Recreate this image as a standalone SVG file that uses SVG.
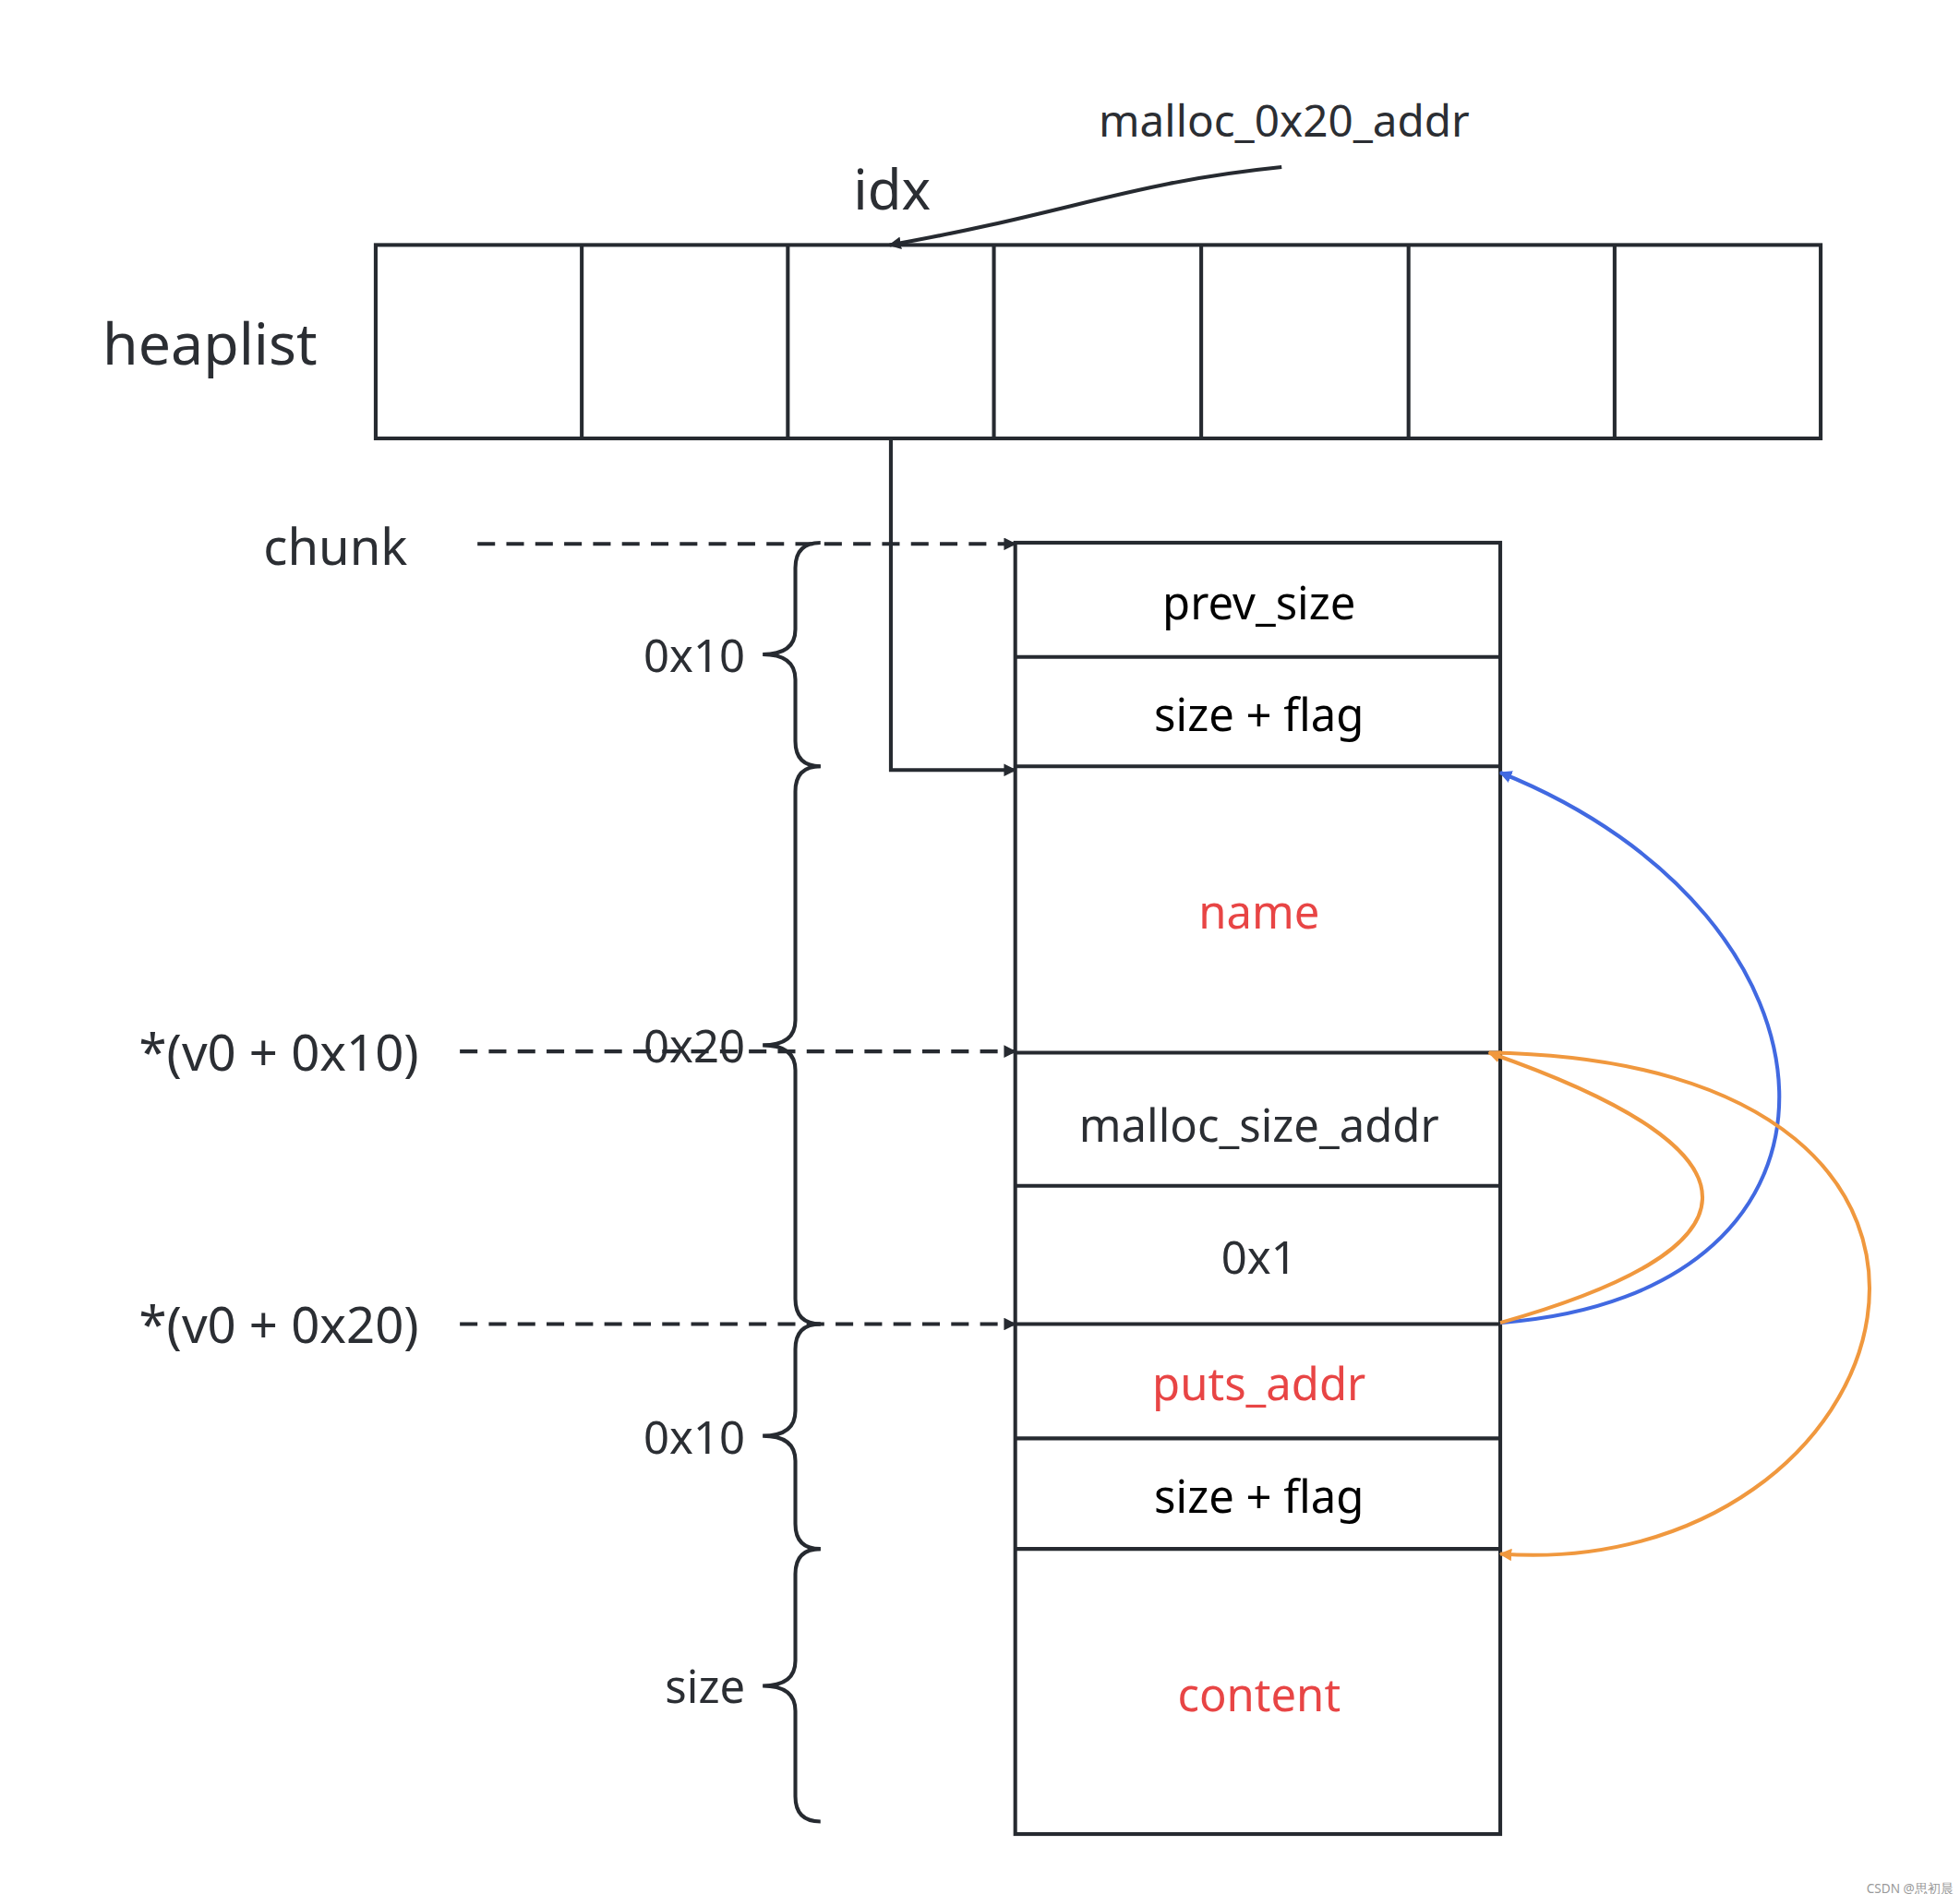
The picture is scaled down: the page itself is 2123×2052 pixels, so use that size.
<svg xmlns="http://www.w3.org/2000/svg" width="2123" height="2052" viewBox="0 0 2123 2052">
<style>
text{font-family:"Noto Sans","Open Sans",sans-serif;fill:#2b2e33;text-anchor:middle;dominant-baseline:central}
.b{fill:none;stroke:#262a30;stroke-width:3}
.d{fill:none;stroke:#262a30;stroke-width:3;stroke-dasharray:14 9}
.r{fill:#e84545}
.k{fill:#000}
</style>
<defs>
<marker id="ak" markerWidth="10" markerHeight="10" refX="9" refY="5" orient="auto" markerUnits="userSpaceOnUse" viewBox="0 0 10 10"><path d="M0,0L10,5L0,10z" fill="#262a30"/></marker>
<marker id="ab" markerWidth="10" markerHeight="10" refX="9" refY="5" orient="auto" markerUnits="userSpaceOnUse" viewBox="0 0 10 10"><path d="M0,0L10,5L0,10z" fill="#4169e1"/></marker>
<marker id="ao" markerWidth="10" markerHeight="10" refX="9" refY="5" orient="auto" markerUnits="userSpaceOnUse" viewBox="0 0 10 10"><path d="M0,0L10,5L0,10z" fill="#f0983e"/></marker>
</defs>
<rect width="2123" height="2052" fill="#fff"/>
<g transform="scale(1.361)">
<g id="heaplist">
<text x="167" y="272" font-size="46">heaplist</text>
<rect class="b" x="299" y="195" width="1150" height="154"/>
<path class="b" d="M463,195V349M627,195V349M791,195V349M956,195V349M1121,195V349M1285,195V349"/>
<text x="710" y="150" font-size="44">idx</text>
<text x="1022" y="95" font-size="35">malloc_0x20_addr</text>
</g>
<g id="chunk">
<rect class="b" x="808" y="432" width="386" height="1028"/>
<path class="b" d="M808,523H1194M808,610H1194M808,838H1194M808,944H1194M808,1054H1194M808,1145H1194M808,1233H1194"/>
<text x="1002" y="479" font-size="36" class="k">prev_size</text>
<text x="1002" y="568" font-size="36" class="k">size + flag</text>
<text x="1002" y="725" font-size="36" class="r">name</text>
<text x="1002" y="895" font-size="36">malloc_size_addr</text>
<text x="1002" y="1000" font-size="36">0x1</text>
<text x="1002" y="1101" font-size="36" class="r">puts_addr</text>
<text x="1002" y="1190" font-size="36" class="k">size + flag</text>
<text x="1002" y="1348" font-size="36" class="r">content</text>
</g>
<g id="labels">
<text x="267" y="434" font-size="40">chunk</text>
<text x="222" y="837" font-size="40">*(v0 + 0x10)</text>
<text x="222" y="1054" font-size="40">*(v0 + 0x20)</text>
<g font-size="36">
<text x="593" y="521" text-anchor="end" style="text-anchor:end">0x10</text>
<text x="593" y="832" style="text-anchor:end">0x20</text>
<text x="593" y="1143" style="text-anchor:end">0x10</text>
<text x="593" y="1342" style="text-anchor:end">size</text>
</g>
<path class="b" d="M653,432Q633,432 633,452V501Q633,521 607,521Q633,521 633,541V590Q633,610 653,610"/>
<path class="b" d="M653,610Q633,610 633,630V812Q633,832 607,832Q633,832 633,852V1034Q633,1054 653,1054"/>
<path class="b" d="M653,1054Q633,1054 633,1074V1123Q633,1143 607,1143Q633,1143 633,1163V1213Q633,1233 653,1233"/>
<path class="b" d="M653,1233Q633,1233 633,1253V1322Q633,1342 607,1342Q633,1342 633,1362V1430Q633,1450 653,1450"/>
<text x="1520" y="1503" font-size="10" fill="#999" style="fill:#999">CSDN @思初晨</text>
</g>
<g id="connectors">
<path class="b" d="M1020,133C900,145 850,170 708,195" marker-end="url(#ak)"/>
<path class="b" d="M709,349V613H808" marker-end="url(#ak)"/>
<path class="d" d="M380,433H808" marker-end="url(#ak)"/>
<path class="d" d="M366,837H808" marker-end="url(#ak)"/>
<path class="d" d="M366,1054H808" marker-end="url(#ak)"/>
<path fill="none" stroke="#4169e1" stroke-width="3" d="M1194,1053C1500,1030 1480,730 1194,615" marker-end="url(#ab)"/>
<path fill="none" stroke="#f0983e" stroke-width="3" d="M1194,1053C1400,995 1420,920 1185,838" marker-end="url(#ao)"/>
<path fill="none" stroke="#f0983e" stroke-width="3" d="M1185,838C1650,845 1520,1260 1194,1237" marker-end="url(#ao)"/>
</g>
</g>
</svg>
